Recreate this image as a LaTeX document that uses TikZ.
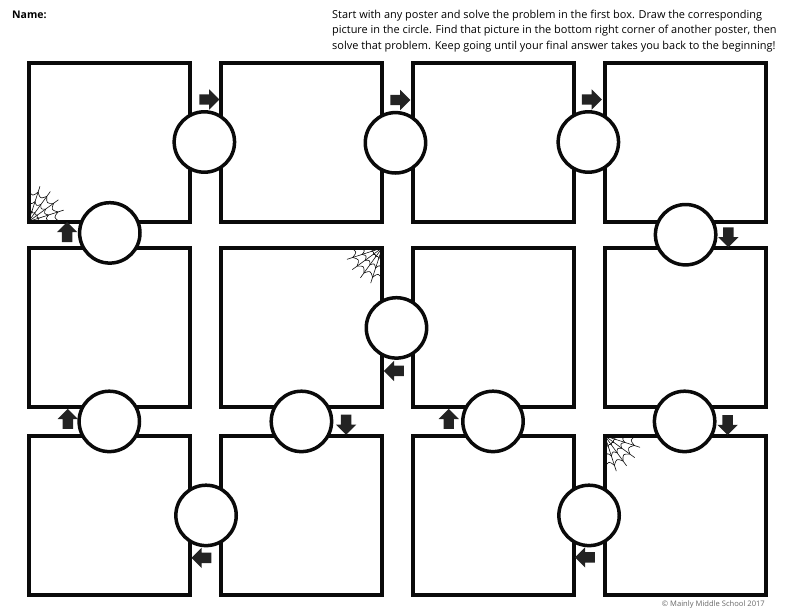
\documentclass[tikz,border=0pt]{standalone}
\usepackage{fontspec}
\setmainfont{Open Sans}
\usetikzlibrary{calc,positioning,shapes.arrows}
\definecolor{InkBlack}{RGB}{10,10,10}
\definecolor{ArrowGrey}{RGB}{35,35,35}
\begin{document}
\begin{tikzpicture}[x=1pt,y=-1pt,
poster/.style={draw=InkBlack,line width=4pt,minimum width=161.5pt,minimum height=159pt,inner sep=0pt,outer sep=0pt},
hole/.style={circle,draw=InkBlack,fill=white,line width=3.5pt,minimum size=60.4pt,inner sep=0pt},
blockarrow/.style={single arrow,fill=ArrowGrey,inner xsep=0pt,inner ysep=5pt,minimum width=20pt,minimum height=20pt,single arrow head extend=5pt},
thread/.style={line width=0.6pt,draw=InkBlack},
spiderweb/.pic={
\foreach \ang in {0,18,...,90} {\draw[thread] (0,0) -- (\ang:37);}
\foreach \rad in {11,21,31} {
\foreach \ang in {0,18,...,72} {
\draw[thread] (\ang:\rad) .. controls ({\ang+9}:{\rad*0.82}) .. ({\ang+18}:\rad);
}}
}]
\useasboundingbox (0,0) rectangle (794,613);
% posters
\node[poster] (a) at (109.3,142) {};
\node[poster,right=30.6pt of a] (b) {};
\node[poster,right=30.6pt of b] (c) {};
\node[poster,right=30.6pt of c] (d) {};
\node[poster,below=26.4pt of a] (e) {};
\node[poster,right=30.6pt of e] (f) {};
\node[poster,right=30.6pt of f] (g) {};
\node[poster,right=30.6pt of g] (h) {};
\node[poster,below=29pt of e] (i) {};
\node[poster,right=30.6pt of i] (j) {};
\node[poster,right=30.6pt of j] (k) {};
\node[poster,right=30.6pt of k] (l) {};
% circles
\node[hole] (ab) at ($(a)!0.5!(b)+(-1,0)$) {};
\node[hole] (bc) at ($(b)!0.5!(c)+(-2,0.8)$) {};
\node[hole] (cd) at ($(c)!0.5!(d)+(-1.2,0)$) {};
\node[hole] (ae) at ($(a)!0.5!(e)+(0.5,-1.8)$) {};
\node[hole] (dh) at ($(d)!0.5!(h)$) {};
\node[hole] (fg) at ($(f)!0.5!(g)+(-1,0.5)$) {};
\node[hole] (ei) at ($(e)!0.5!(i)$) {};
\node[hole] (fj) at ($(f)!0.5!(j)$) {};
\node[hole] (gk) at ($(g)!0.5!(k)+(-0.5,0)$) {};
\node[hole] (hl) at ($(h)!0.5!(l)+(-1,0)$) {};
\node[hole] (ij) at ($(i)!0.5!(j)+(0.7,0)$) {};
\node[hole] (kl) at ($(k)!0.5!(l)+(-0.5,0)$) {};
% arrows
\node[blockarrow] (ar1) at ($(ab)+(2.3,-42.5)$) {};
\node[blockarrow] (ar2) at ($(bc)+(2.2,-42.8)$) {};
\node[blockarrow] (ar3) at ($(cd)+(0.9,-42.5)$) {};
\node[blockarrow,rotate=90] (ar4) at ($(ae)+(-42.7,1.7)$) {};
\node[blockarrow,rotate=-90] (ar5) at ($(dh)+(42.8,0)$) {};
\node[blockarrow,rotate=180] (ar6) at ($(fg)+(0,43)$) {};
\node[blockarrow,rotate=90] (ar7) at ($(ei)+(-41.5,0)$) {};
\node[blockarrow,rotate=-90] (ar8) at ($(fj)+(44.7,0.7)$) {};
\node[blockarrow,rotate=90] (ar9) at ($(gk)+(-44.3,0)$) {};
\node[blockarrow,rotate=-90] (ar10) at ($(hl)+(43,1)$) {};
\node[blockarrow,rotate=180] (ar11) at ($(ij)+(-2,42.5)$) {};
\node[blockarrow,rotate=180] (ar12) at ($(kl)+(-1.5,42)$) {};
% webs
\pic[rotate=90] at (a.south west) {spiderweb};
\pic[rotate=-90] at (f.north east) {spiderweb};
\pic at (l.north west) {spiderweb};
% text
\node[anchor=west,inner sep=0pt,font=\bfseries\fontsize{10.5}{13}\selectfont] (name) at (12,15) {Name:};
\node[anchor=north west,align=left,inner sep=0pt,font=\fontsize{10.95}{15.7}\selectfont] (rules) at (332,9.5)
{Start with any poster and solve the problem in the first box. Draw the corresponding\\
picture in the circle. Find that picture in the bottom right corner of another poster, then\\
solve that problem. Keep going until your final answer takes you back to the beginning!};
\node[anchor=east,text=black!60,inner sep=0pt,font=\fontsize{7.6}{9}\selectfont] (copy) at (765,604.5) {© Mainly Middle School 2017};
\end{tikzpicture}
\end{document}
